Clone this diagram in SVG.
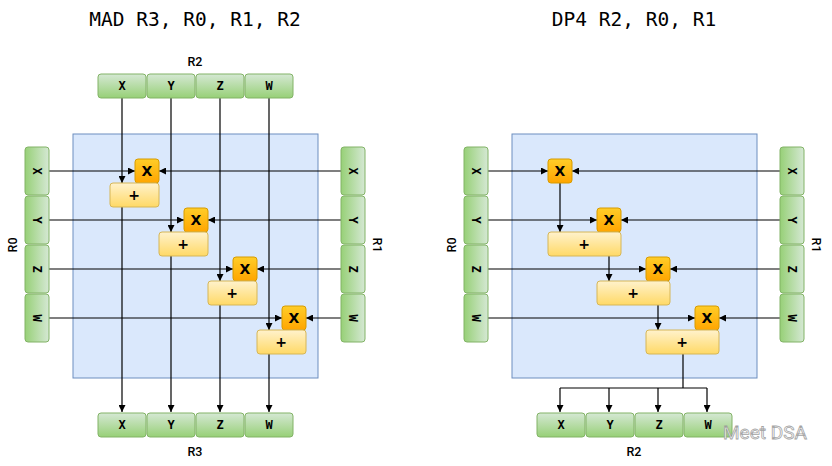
<svg xmlns="http://www.w3.org/2000/svg" width="832" height="466" viewBox="0 0 832 466">
<defs>
<linearGradient id="gg" x1="0" y1="0" x2="0" y2="1"><stop offset="0" stop-color="#d5e8d4"/><stop offset="1" stop-color="#97d077"/></linearGradient>
<linearGradient id="gs" x1="1" y1="0" x2="0" y2="0"><stop offset="0" stop-color="#d5e8d4"/><stop offset="1" stop-color="#97d077"/></linearGradient>
<linearGradient id="og" x1="0" y1="0" x2="0" y2="1"><stop offset="0" stop-color="#ffcd28"/><stop offset="1" stop-color="#ffa500"/></linearGradient>
<linearGradient id="yg" x1="0" y1="0" x2="0" y2="1"><stop offset="0" stop-color="#fff2cc"/><stop offset="1" stop-color="#ffd966"/></linearGradient>
<marker id="ar" viewBox="0 0 10 10" refX="10" refY="5" markerWidth="7" markerHeight="7" orient="auto" markerUnits="userSpaceOnUse"><path d="M0,0 L10,5 L0,10 z" fill="#000"/></marker>
</defs>
<style>
.t{font-family:"DejaVu Sans Mono","Liberation Mono",monospace;font-size:19.5px;fill:#000}
.l{font-family:"Roboto","Liberation Sans",sans-serif;font-size:12.5px;font-weight:500;fill:#000;text-anchor:middle}
.g{fill:url(#gg);stroke:#82b366;stroke-width:1}
.s{fill:url(#gs);stroke:#82b366;stroke-width:1}
.o{fill:url(#og);stroke:#d79b00;stroke-width:1}
.y{fill:url(#yg);stroke:#d6b656;stroke-width:1}
.b{fill:#dae8fc;stroke:#6c8ebf;stroke-width:1}
.c{font-family:"DejaVu Sans Mono","Liberation Mono",monospace;font-size:12px;font-weight:bold;text-anchor:middle;dominant-baseline:central}
.xo{font-family:"DejaVu Sans","Liberation Sans",sans-serif;font-size:14px;font-weight:bold;text-anchor:middle;dominant-baseline:central}
.e{stroke:#000;stroke-width:1.2;fill:none}
.a{stroke:#000;stroke-width:1.2;fill:none;marker-end:url(#ar)}
</style>
<rect width="832" height="466" fill="#fff"/>
<text class="t" x="195" y="26" text-anchor="middle">MAD R3, R0, R1, R2</text>
<text class="t" x="634" y="26" text-anchor="middle">DP4 R2, R0, R1</text>

<g id="mad-unit"><rect class="b" x="73" y="134" width="245" height="244"/></g>
<g id="dp4-unit"><rect class="b" x="512" y="134" width="245" height="244"/></g>

<g id="connectors">
<path class="a" d="M122,98 V183"/><path class="a" d="M171,98 V232"/><path class="a" d="M220,98 V281"/><path class="a" d="M269,98 V330"/>
<path class="a" d="M122,207 V412"/><path class="a" d="M171,256 V412"/><path class="a" d="M220,305 V412"/><path class="a" d="M269,354 V412"/>
<path class="a" d="M49,171 H135"/><path class="a" d="M49,220 H184"/><path class="a" d="M49,269 H233"/><path class="a" d="M49,318 H282"/>
<path class="a" d="M341,171 H159"/><path class="a" d="M341,220 H208"/><path class="a" d="M341,269 H257"/><path class="a" d="M341,318 H306"/>
<path class="a" d="M488,171 H548"/><path class="a" d="M488,220 H597"/><path class="a" d="M488,269 H646"/><path class="a" d="M488,318 H695"/>
<path class="a" d="M780,171 H572"/><path class="a" d="M780,220 H621"/><path class="a" d="M780,269 H670"/><path class="a" d="M780,318 H719"/>
<path class="a" d="M560,183 V232"/>
<path class="a" d="M609,256 V281"/><path class="a" d="M658,305 V330"/>
<path class="e" d="M683,354 V388 M560,388 H707"/>
<path class="a" d="M560,388 V412"/><path class="a" d="M609,388 V412"/><path class="a" d="M658,388 V412"/><path class="a" d="M707,388 V412"/>
</g>

<g id="R2-top">
<rect class="g" x="98" y="74" width="48" height="24" rx="3"/><text class="c" x="122" y="86">X</text>
<rect class="g" x="147" y="74" width="48" height="24" rx="3"/><text class="c" x="171" y="86">Y</text>
<rect class="g" x="196" y="74" width="48" height="24" rx="3"/><text class="c" x="220" y="86">Z</text>
<rect class="g" x="245" y="74" width="48" height="24" rx="3"/><text class="c" x="269" y="86">W</text>
<text class="l" x="195" y="66">R2</text>
</g>
<g id="R3-bottom">
<rect class="g" x="98" y="413" width="48" height="24" rx="3"/><text class="c" x="122" y="425">X</text>
<rect class="g" x="147" y="413" width="48" height="24" rx="3"/><text class="c" x="171" y="425">Y</text>
<rect class="g" x="196" y="413" width="48" height="24" rx="3"/><text class="c" x="220" y="425">Z</text>
<rect class="g" x="245" y="413" width="48" height="24" rx="3"/><text class="c" x="269" y="425">W</text>
<text class="l" x="195" y="456">R3</text>
</g>
<g id="R2-bottom">
<rect class="g" x="537" y="413" width="48" height="24" rx="3"/><text class="c" x="561" y="425">X</text>
<rect class="g" x="586" y="413" width="48" height="24" rx="3"/><text class="c" x="610" y="425">Y</text>
<rect class="g" x="635" y="413" width="48" height="24" rx="3"/><text class="c" x="659" y="425">Z</text>
<rect class="g" x="684" y="413" width="48" height="24" rx="3"/><text class="c" x="708" y="425">W</text>
<text class="l" x="634" y="456">R2</text>
</g>

<g id="R0-mad">
<rect class="s" x="25" y="147" width="24" height="48" rx="3"/><text class="c" transform="translate(37,171) rotate(90)">X</text>
<rect class="s" x="25" y="196" width="24" height="48" rx="3"/><text class="c" transform="translate(37,220) rotate(90)">Y</text>
<rect class="s" x="25" y="245" width="24" height="48" rx="3"/><text class="c" transform="translate(37,269) rotate(90)">Z</text>
<rect class="s" x="25" y="294" width="24" height="48" rx="3"/><text class="c" transform="translate(37,318) rotate(90)">W</text>
<text class="l" transform="translate(17,245) rotate(-90)">R0</text>
</g>
<g id="R1-mad">
<rect class="s" x="341" y="147" width="24" height="48" rx="3"/><text class="c" transform="translate(353,171) rotate(90)">X</text>
<rect class="s" x="341" y="196" width="24" height="48" rx="3"/><text class="c" transform="translate(353,220) rotate(90)">Y</text>
<rect class="s" x="341" y="245" width="24" height="48" rx="3"/><text class="c" transform="translate(353,269) rotate(90)">Z</text>
<rect class="s" x="341" y="294" width="24" height="48" rx="3"/><text class="c" transform="translate(353,318) rotate(90)">W</text>
<text class="l" transform="translate(373,245) rotate(90)">R1</text>
</g>
<g id="R0-dp4">
<rect class="s" x="464" y="147" width="24" height="48" rx="3"/><text class="c" transform="translate(476,171) rotate(90)">X</text>
<rect class="s" x="464" y="196" width="24" height="48" rx="3"/><text class="c" transform="translate(476,220) rotate(90)">Y</text>
<rect class="s" x="464" y="245" width="24" height="48" rx="3"/><text class="c" transform="translate(476,269) rotate(90)">Z</text>
<rect class="s" x="464" y="294" width="24" height="48" rx="3"/><text class="c" transform="translate(476,318) rotate(90)">W</text>
<text class="l" transform="translate(456,245) rotate(-90)">R0</text>
</g>
<g id="R1-dp4">
<rect class="s" x="780" y="147" width="24" height="48" rx="3"/><text class="c" transform="translate(792,171) rotate(90)">X</text>
<rect class="s" x="780" y="196" width="24" height="48" rx="3"/><text class="c" transform="translate(792,220) rotate(90)">Y</text>
<rect class="s" x="780" y="245" width="24" height="48" rx="3"/><text class="c" transform="translate(792,269) rotate(90)">Z</text>
<rect class="s" x="780" y="294" width="24" height="48" rx="3"/><text class="c" transform="translate(792,318) rotate(90)">W</text>
<text class="l" transform="translate(812,245) rotate(90)">R1</text>
</g>

<g id="mad-ops">
<rect class="o" x="135" y="159" width="24" height="24" rx="3"/><text class="xo" x="147" y="171">X</text>
<rect class="y" x="110" y="183" width="49" height="24" rx="3"/><text class="xo" x="134" y="195">+</text>
<rect class="o" x="184" y="208" width="24" height="24" rx="3"/><text class="xo" x="196" y="220">X</text>
<rect class="y" x="159" y="232" width="49" height="24" rx="3"/><text class="xo" x="183" y="244">+</text>
<rect class="o" x="233" y="257" width="24" height="24" rx="3"/><text class="xo" x="245" y="269">X</text>
<rect class="y" x="208" y="281" width="49" height="24" rx="3"/><text class="xo" x="232" y="293">+</text>
<rect class="o" x="282" y="306" width="24" height="24" rx="3"/><text class="xo" x="294" y="318">X</text>
<rect class="y" x="257" y="330" width="49" height="24" rx="3"/><text class="xo" x="281" y="342">+</text>
</g>
<g id="dp4-ops">
<rect class="o" x="548" y="159" width="24" height="24" rx="3"/><text class="xo" x="560" y="171">X</text>
<rect class="o" x="597" y="208" width="24" height="24" rx="3"/><text class="xo" x="609" y="220">X</text>
<rect class="y" x="548" y="232" width="73" height="24" rx="3"/><text class="xo" x="584" y="244">+</text>
<rect class="o" x="646" y="257" width="24" height="24" rx="3"/><text class="xo" x="658" y="269">X</text>
<rect class="y" x="597" y="281" width="73" height="24" rx="3"/><text class="xo" x="633" y="293">+</text>
<rect class="o" x="695" y="306" width="24" height="24" rx="3"/><text class="xo" x="707" y="318">X</text>
<rect class="y" x="646" y="330" width="73" height="24" rx="3"/><text class="xo" x="682" y="342">+</text>
</g>
<text x="723" y="439" font-family="Roboto,'Liberation Sans',sans-serif" font-size="19" fill="#ffffff" stroke="#9a9a9a" stroke-width="0.8" opacity="0.9">Meet DSA</text>
</svg>
